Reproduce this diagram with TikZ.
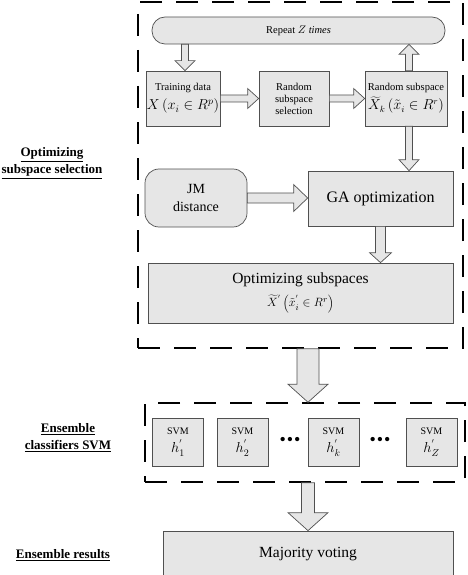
\documentclass[tikz,border=0pt]{standalone}
\usepackage{fontspec}
\setmainfont{Liberation Serif}
\usetikzlibrary{calc}
\definecolor{boxgray}{RGB}{230,230,230}
\definecolor{linegray}{RGB}{80,80,80}
% hollow block arrow: from, to, shaft half width, head half width, head length
\newcommand{\barrow}[5]{%
  \coordinate (bh) at ($(#2)!#5!(#1)$);
  \filldraw[draw=linegray, fill=boxgray, line width=0.7pt, line join=miter]
    ($(#1)!#3!90:(#2)$) -- ($(bh)!#3!90:(#2)$) -- ($(bh)!#4!90:(#2)$) -- (#2)
    -- ($(bh)!#4!-90:(#2)$) -- ($(bh)!#3!-90:(#2)$) -- ($(#1)!#3!-90:(#2)$) -- cycle;}

\begin{document}
\begin{tikzpicture}[x=1pt, y=-1pt,
  grp/.style={draw, dash pattern=on 22pt off 14pt, line width=1.5pt, inner sep=0pt},
  blk/.style={draw=linegray, fill=boxgray, line width=0.7pt, inner sep=0pt, align=center},
  rnd/.style={blk, rounded corners=13pt},
  svm/.style={blk, minimum width=51pt, minimum height=48pt},
  lbl/.style={align=center, font=\fontsize{13}{17}\selectfont\bfseries}
]
  \useasboundingbox (0,0) rectangle (468,575);

  % groups
  \node[grp, minimum width=325pt, minimum height=346pt] (optgrp) at (300.5,175) {};
  \node[grp, minimum width=320pt, minimum height=79pt] (ensgrp) at (305,442.5) {};

  % optimizing subspace selection
  \node[rnd, minimum width=293pt, minimum height=27pt, font=\fontsize{10.5}{12}\selectfont] (rep) at (298.5,30.5) {Repeat $Z$ \textit{times}};
  \node[blk, minimum width=74pt, minimum height=55pt, font=\fontsize{10.5}{19}\selectfont] (trn) at (183,98.5)
    {Training data\\{\fontsize{14}{17}\selectfont $X\left(x_i\in R^p\right)$}};
  \node[blk, minimum width=70pt, minimum height=55pt, font=\fontsize{10.5}{12}\selectfont] (rss) at (294,98.5)
    {Random\\subspace\\selection};
  \node[blk, minimum width=82pt, minimum height=55pt, font=\fontsize{10.5}{19}\selectfont] (rsp) at (406,98.5)
    {Random subspace\\{\fontsize{13.5}{17}\selectfont $\widetilde{X}_k\left(\tilde{x}_i\in R^r\right)$}};
  \node[rnd, rounded corners=14pt, minimum width=102pt, minimum height=58pt, font=\fontsize{14}{18}\selectfont] (jm) at (196,198)
    {JM\\distance};
  \node[blk, minimum width=145pt, minimum height=55pt, font=\fontsize{16}{18}\selectfont] (ga) at (380.5,198.5) {GA optimization};
  \node[blk, minimum width=305pt, minimum height=60pt, font=\fontsize{15.5}{23}\selectfont] (opt) at (300.5,293)
    {Optimizing subspaces\\{\fontsize{13}{15}\selectfont $\widetilde{X}^{'}\left(\tilde{x}^{'}_i\in R^r\right)$}};

  % ensemble classifiers
  \node[svm, font=\fontsize{10}{18}\selectfont] (svm1) at (178,442) {SVM\\{\fontsize{14}{15}\selectfont $h^{'}_{1}$}};
  \node[svm, font=\fontsize{10}{18}\selectfont] (svm2) at (242.5,442) {SVM\\{\fontsize{14}{15}\selectfont $h^{'}_{2}$}};
  \node[svm, font=\fontsize{10}{18}\selectfont] (svmk) at (333.5,442) {SVM\\{\fontsize{14}{15}\selectfont $h^{'}_{k}$}};
  \node[svm, font=\fontsize{10}{18}\selectfont] (svmz) at (431.5,442) {SVM\\{\fontsize{14}{15}\selectfont $h^{'}_{Z}$}};
  \node[font=\fontsize{18}{18}\selectfont] (dots1) at (290,441) {\textbullet\kern1pt\textbullet\kern1pt\textbullet};
  \node[font=\fontsize{18}{18}\selectfont] (dots2) at (380,441) {\textbullet\kern1pt\textbullet\kern1pt\textbullet};

  % ensemble results
  \node[blk, minimum width=290pt, minimum height=46pt, font=\fontsize{15.5}{18}\selectfont] (maj) at (308,554) {Majority voting};

  % side labels
  \node[lbl] (lopt) at (52,163) {\underline{Optimizing}\\\underline{subspace selection}};
  \node[lbl] (lens) at (68,438) {\underline{Ensemble}\\\underline{classifiers SVM}};
  \node[lbl] (lres) at (63,555) {\underline{Ensemble results}};

  % block arrows
  \coordinate (a1) at ([xshift=2pt]rep.south -| trn.north);
  \coordinate (a2) at ([xshift=2pt]trn.north);
  \barrow{a1}{a2}{3.5pt}{10pt}{10pt}
  \coordinate (a3) at ([xshift=3pt]rsp.north);
  \coordinate (a4) at (a3 |- rep.south);
  \barrow{a3}{a4}{3.5pt}{10pt}{10pt}
  \barrow{trn.east}{rss.west}{3.5pt}{10pt}{11pt}
  \barrow{rss.east}{rsp.west}{3.5pt}{10pt}{11pt}
  \coordinate (a5) at ([xshift=3pt]rsp.south);
  \coordinate (a6) at (a5 |- ga.north);
  \barrow{a5}{a6}{3.5pt}{10pt}{11pt}
  \coordinate (a12) at (jm.east -| ga.west);
  \barrow{jm.east}{a12}{5pt}{13.5pt}{14pt}
  \coordinate (a7) at (ga.south);
  \coordinate (a8) at (ga.south |- opt.north);
  \barrow{a7}{a8}{5pt}{11pt}{10pt}
  \coordinate (a9) at (maj.north |- optgrp.south);
  \coordinate (a10) at (maj.north |- ensgrp.north);
  \barrow{a9}{a10}{11pt}{20pt}{18pt}
  \coordinate (a11) at (maj.north |- ensgrp.south);
  \barrow{a11}{maj.north}{6.5pt}{20pt}{18pt}
\end{tikzpicture}
\end{document}
